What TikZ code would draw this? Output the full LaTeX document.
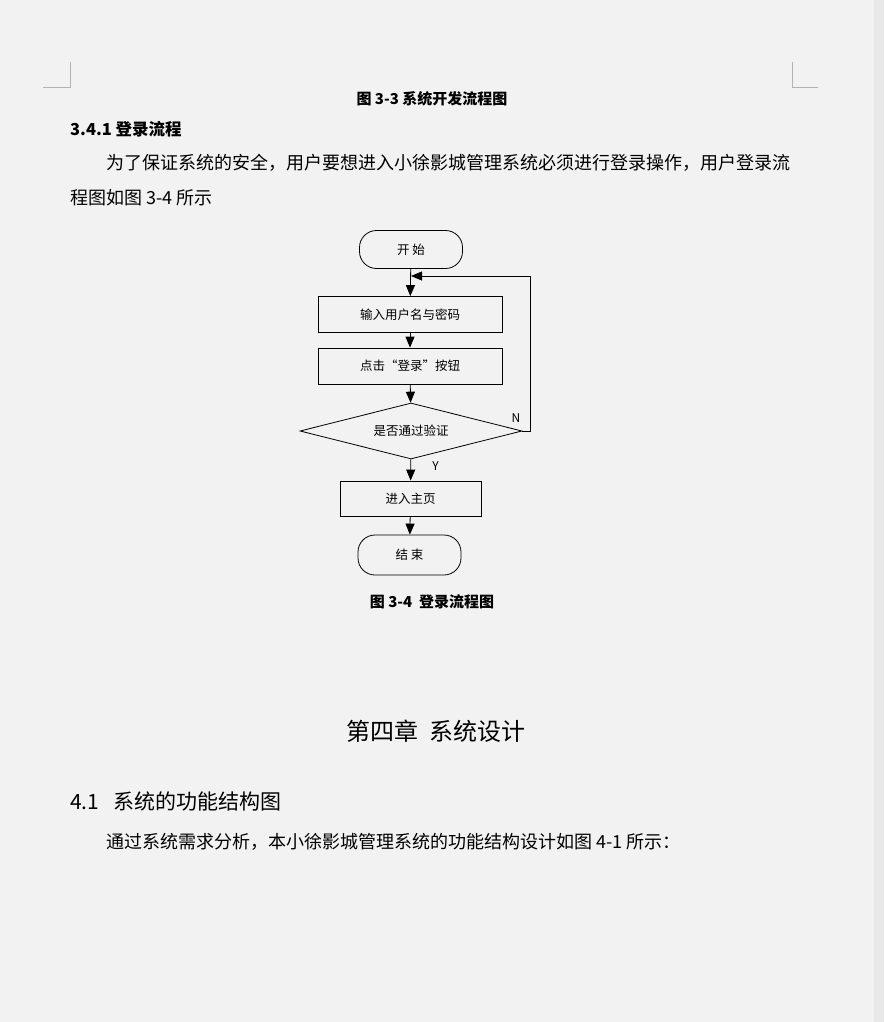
\documentclass[tikz,border=0pt]{standalone}
\usepackage{fontspec}
\setmainfont{Noto Sans CJK SC}
\newfontfamily\cjk{Noto Sans CJK SC}
\usetikzlibrary{shapes.geometric,arrows.meta}
\begin{document}
\begin{tikzpicture}[x=1pt,y=-1pt,
  box/.style={draw,thick,minimum width=184pt,minimum height=36pt,inner sep=0pt,font=\fontsize{12.5}{14}\selectfont},
  term/.style={draw,thick,rounded corners=17pt,minimum width=103pt,minimum height=38pt,font=\fontsize{12.5}{14}\selectfont},
  arr/.style={thick,-{Triangle[length=11pt,width=9pt]}},
  body/.style={anchor=west,inner sep=0pt,font=\fontsize{18}{20}\selectfont}]
\useasboundingbox (0,0) rectangle (884,1022);
\fill[gray!10] (0,0) rectangle (884,1022);
\fill[gray!18] (874,0) rectangle (884,1022);
\draw[gray!60] (70,62) -- (70,87) -- (43,87);
\draw[gray!60] (792,62) -- (792,87) -- (818,87);
\node[font=\fontsize{15}{17}\selectfont\bfseries] (cap1) at (432,99) {图 3-3 系统开发流程图};
\node[body,font=\fontsize{16.5}{18}\selectfont\bfseries] (h341) at (70,129) {3.4.1 登录流程};
\node[body] (p1) at (106,163) {为了保证系统的安全，用户要想进入小徐影城管理系统必须进行登录操作，用户登录流};
\node[body] (p2) at (70,198) {程图如图 3-4 所示};
\node[term] (s) at (411,249.5) {开\ 始};
\node[box] (b1) at (410,314.5) {输入用户名与密码};
\node[box] (b2) at (410,366) {点击“登录”按钮};
\node[draw,thick,diamond,aspect=4,minimum width=222pt,minimum height=56pt,inner sep=0pt,font=\fontsize{12.5}{14}\selectfont] (d) at (411,431) {是否通过验证};
\node[box,minimum width=141pt,minimum height=35pt] (b3) at (410.5,498.5) {进入主页};
\node[term,minimum height=40pt] (e) at (409.5,555) {结\ 束};
\coordinate (m) at (411,276);
\coordinate (r1) at (530,431);
\coordinate (r2) at (530,276);
\draw[arr] (s) -- (b1);
\draw[arr] (b1) -- (b2);
\draw[arr] (b2) -- (d);
\draw[arr] (d) -- (b3) node[pos=0.3,right=18pt,font=\fontsize{12}{13}\selectfont] {Y};
\draw[arr] (b3) -- (e);
\draw[arr] (d.east) -- (r1) -- (r2) -- (m);
\node[font=\fontsize{12}{13}\selectfont] (nl) at (516,418) {N};
\node[font=\fontsize{15}{17}\selectfont\bfseries] (cap2) at (432,602) {图 3-4\ \ 登录流程图};
\node[font=\fontsize{24}{26}\selectfont] (ch) at (436,731) {第四章\ \ 系统设计};
\node[body,font=\fontsize{21}{23}\selectfont] (h41) at (70,801) {4.1\ \ \ 系统的功能结构图};
\node[body] (p3) at (106,842) {通过系统需求分析，本小徐影城管理系统的功能结构设计如图 4-1 所示：};
\end{tikzpicture}
\end{document}
